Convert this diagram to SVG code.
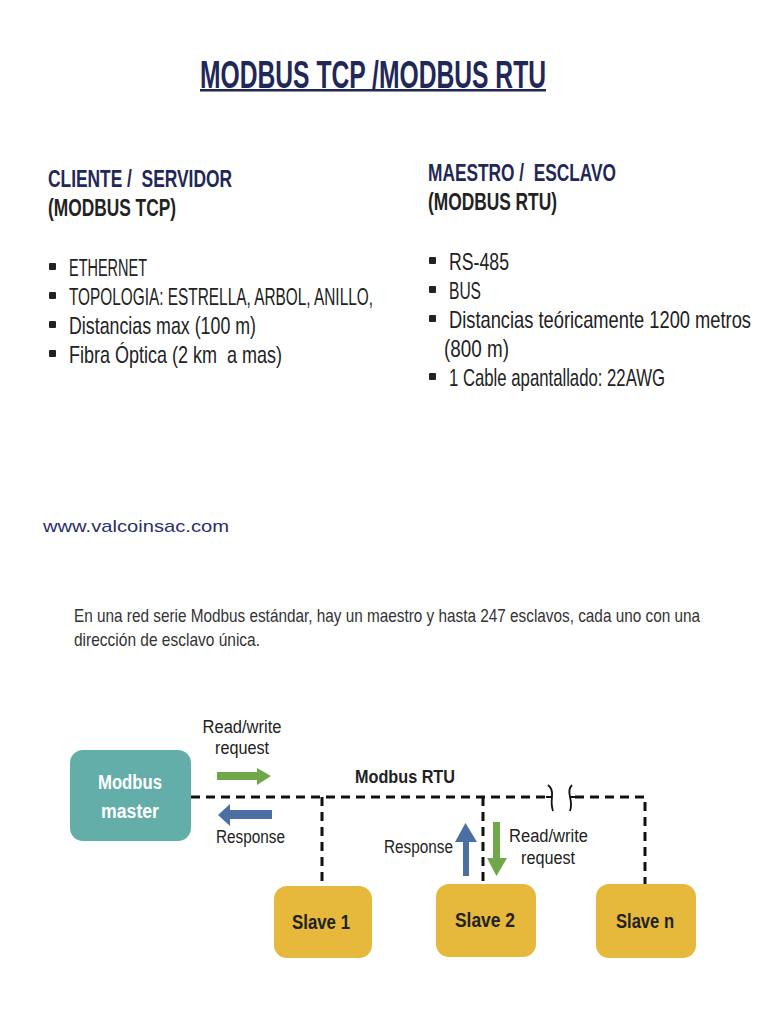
<svg xmlns="http://www.w3.org/2000/svg" width="768" height="1024" viewBox="0 0 768 1024">
<style>
.title{font-family:"Liberation Sans",Arial,sans-serif;font-weight:bold;font-size:38px;fill:#1f2858}
.head{font-family:"Liberation Sans",Arial,sans-serif;font-weight:bold;font-size:24px;fill:#1f2858}
.sub{font-family:"Liberation Sans",Arial,sans-serif;font-weight:bold;font-size:24px;fill:#222}
.bul{font-family:"Liberation Sans",Arial,sans-serif;font-size:24px;fill:#222}
.para{font-family:"Liberation Sans",Arial,sans-serif;font-size:18px;fill:#333}
.web{font-family:"Liberation Sans",Arial,sans-serif;font-size:17px;fill:#2b2f6a}
.lbl{font-family:"Liberation Sans",Arial,sans-serif;font-size:18px;fill:#222}
.lblb{font-family:"Liberation Sans",Arial,sans-serif;font-weight:bold;font-size:19px;fill:#222}
.ntxt{font-family:"Liberation Sans",Arial,sans-serif;font-weight:bold;font-size:20px;text-anchor:middle}
.dash{fill:none;stroke:#111;stroke-width:3;stroke-dasharray:9 6}
.dot{fill:#222}
</style>
<rect width="768" height="1024" fill="#fff"/>
<g transform="translate(200,88) scale(0.648,1)"><text class="title" x="0" y="0" textLength="534" lengthAdjust="spacingAndGlyphs">MODBUS TCP /MODBUS RTU</text></g>
<rect x="200" y="89" width="346" height="2.5" fill="#1f2858"/>

<g transform="translate(48,187) scale(0.7216,1)"><text class="head" x="0" y="0" textLength="255" lengthAdjust="spacingAndGlyphs">CLIENTE /&#160; SERVIDOR</text></g>
<g transform="translate(48,216) scale(0.7232,1)"><text class="sub" x="0" y="0" textLength="177" lengthAdjust="spacingAndGlyphs">(MODBUS TCP)</text></g>
<g>
<rect class="dot" x="49" y="263" width="7" height="7" rx="1"/>
<g transform="translate(69,276) scale(0.6047,1)"><text class="bul" x="0" y="0" textLength="129" lengthAdjust="spacingAndGlyphs">ETHERNET</text></g>
<rect class="dot" x="49" y="292" width="7" height="7" rx="1"/>
<g transform="translate(69,305) scale(0.6373,1)"><text class="bul" x="0" y="0" textLength="477" lengthAdjust="spacingAndGlyphs">TOPOLOGIA: ESTRELLA, ARBOL, ANILLO,</text></g>
<rect class="dot" x="49" y="321" width="7" height="7" rx="1"/>
<g transform="translate(69,334) scale(0.7421,1)"><text class="bul" x="0" y="0" textLength="252" lengthAdjust="spacingAndGlyphs">Distancias max (100 m)</text></g>
<rect class="dot" x="49" y="350" width="7" height="7" rx="1"/>
<g transform="translate(69,363) scale(0.75,1)"><text class="bul" x="0" y="0" textLength="284" lengthAdjust="spacingAndGlyphs">Fibra Óptica (2 km&#160; a mas)</text></g>
</g>

<g transform="translate(428,181) scale(0.7148,1)"><text class="head" x="0" y="0" textLength="263" lengthAdjust="spacingAndGlyphs">MAESTRO /&#160; ESCLAVO</text></g>
<g transform="translate(428,210) scale(0.7207,1)"><text class="sub" x="0" y="0" textLength="179" lengthAdjust="spacingAndGlyphs">(MODBUS RTU)</text></g>
<g>
<rect class="dot" x="429" y="257" width="7" height="7" rx="1"/>
<g transform="translate(449,270) scale(0.7407,1)"><text class="bul" x="0" y="0" textLength="81" lengthAdjust="spacingAndGlyphs">RS-485</text></g>
<rect class="dot" x="429" y="286" width="7" height="7" rx="1"/>
<g transform="translate(449,299) scale(0.653,1)"><text class="bul" x="0" y="0" textLength="49" lengthAdjust="spacingAndGlyphs">BUS</text></g>
<rect class="dot" x="429" y="315" width="7" height="7" rx="1"/>
<g transform="translate(449,328) scale(0.7626,1)"><text class="bul" x="0" y="0" textLength="396" lengthAdjust="spacingAndGlyphs">Distancias teóricamente 1200 metros</text></g>
<g transform="translate(444,357) scale(0.7831,1)"><text class="bul" x="0" y="0" textLength="83" lengthAdjust="spacingAndGlyphs">(800 m)</text></g>
<rect class="dot" x="429" y="373" width="7" height="7" rx="1"/>
<g transform="translate(449,386) scale(0.6945,1)"><text class="bul" x="0" y="0" textLength="311" lengthAdjust="spacingAndGlyphs">1 Cable apantallado: 22AWG</text></g>
</g>

<text class="web" x="43" y="532" textLength="186" lengthAdjust="spacingAndGlyphs">www.valcoinsac.com</text>

<g transform="translate(74,622) scale(0.7995,1)"><text class="para" x="0" y="0" textLength="783" lengthAdjust="spacingAndGlyphs">En una red serie Modbus estándar, hay un maestro y hasta 247 esclavos, cada uno con una</text></g>
<g transform="translate(74,646) scale(0.8267,1)"><text class="para" x="0" y="0" textLength="225" lengthAdjust="spacingAndGlyphs">dirección de esclavo única.</text></g>

<g id="connectors">
<path class="dash" d="M191 797 H548"/>
<path class="dash" d="M575 797 H645 V884"/>
<path class="dash" d="M322 797 V886"/>
<path class="dash" d="M483 797 V884"/>
<path d="M548 785 Q553 789 552 797 Q551 805 553 811 M552 797 H546" fill="none" stroke="#111" stroke-width="1.8"/>
<path d="M572 785 Q568 789 570 797 Q572 805 570 811 M570 797 H576" fill="none" stroke="#111" stroke-width="1.8"/>
<polygon points="217,772 257,772 257,768 271,776 257,785 257,780 217,780" fill="#6fa84b"/>
<polygon points="272,810 230,810 230,804 218,815 230,826 230,819 272,819" fill="#4b6fa3"/>
<polygon points="463,876 463,842 455,842 465.5,823 477,842 469,842 469,876" fill="#4b6fa3"/>
<polygon points="493,822 500,822 500,858 507,858 496.5,876 487,858 493,858" fill="#6fa84b"/>
<text class="lbl" x="242" y="733" text-anchor="middle" textLength="79" lengthAdjust="spacingAndGlyphs">Read/write</text>
<text class="lbl" x="242" y="754" text-anchor="middle" textLength="54" lengthAdjust="spacingAndGlyphs">request</text>
<text class="lbl" x="216" y="843" textLength="69" lengthAdjust="spacingAndGlyphs">Response</text>
<text class="lblb" x="355" y="783" textLength="100" lengthAdjust="spacingAndGlyphs">Modbus RTU</text>
<text class="lbl" x="384" y="853" textLength="69" lengthAdjust="spacingAndGlyphs">Response</text>
<text class="lbl" x="509" y="842" textLength="79" lengthAdjust="spacingAndGlyphs">Read/write</text>
<text class="lbl" x="548" y="864" text-anchor="middle" textLength="54" lengthAdjust="spacingAndGlyphs">request</text>
</g>

<g id="master">
<rect x="70" y="750" width="121" height="91" rx="13" fill="#63aea8"/>
<text class="ntxt" x="130" y="789" fill="#fff" textLength="64" lengthAdjust="spacingAndGlyphs">Modbus</text>
<text class="ntxt" x="130" y="818" fill="#fff" textLength="58" lengthAdjust="spacingAndGlyphs">master</text>
</g>
<g id="slave1">
<rect x="274" y="886" width="98" height="72" rx="13" fill="#e6b83c"/>
<text class="ntxt" x="321" y="929" fill="#222" textLength="58" lengthAdjust="spacingAndGlyphs">Slave 1</text>
</g>
<g id="slave2">
<rect x="436" y="884" width="100" height="73" rx="13" fill="#e6b83c"/>
<text class="ntxt" x="485" y="927" fill="#222" textLength="60" lengthAdjust="spacingAndGlyphs">Slave 2</text>
</g>
<g id="slaven">
<rect x="596" y="884" width="100" height="74" rx="13" fill="#e6b83c"/>
<text class="ntxt" x="645" y="928" fill="#222" textLength="58" lengthAdjust="spacingAndGlyphs">Slave n</text>
</g>
</svg>
